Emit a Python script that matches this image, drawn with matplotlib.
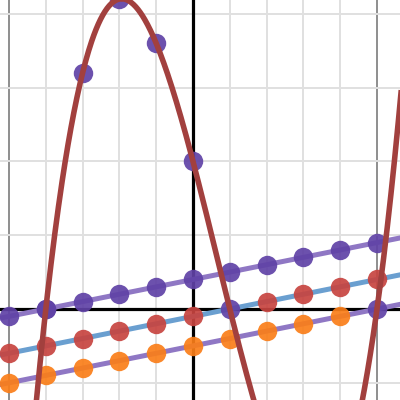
import numpy as np
import matplotlib
matplotlib.use("Agg")
import matplotlib.pyplot as plt

# raices del cubico y = (x+4)(x-1)(x-5)
raices = [-4, 1, 5]

xs_lineas = np.arange(-5, 6)
# tres rectas de pendiente 1
y_arriba = xs_lineas + 4
y_medio = xs_lineas - 1
y_abajo = xs_lineas - 5

# puntos morados sobre la cubica
x_cubica_pts = [-3, -2, -1, 0]
y_cubica_pts = [32, 42, 36, 20]

# puntos rojos (recta del medio) y naranjas (recta de abajo)
x_rojos = [-5, -4, -3, -2, -1, 0, 2, 3, 4, 5]
y_rojos = [-6, -5, -4, -3, -2, -1, 1, 2, 3, 4]
x_naranjas = [-5, -4, -3, -2, -1, 0, 1, 2, 3, 4]
y_naranjas = [-10, -9, -8, -7, -6, -5, -4, -3, -2, -1]


def cubica(x):
    return (x - raices[0]) * (x - raices[1]) * (x - raices[2])


fig = plt.figure(figsize=(4, 4), dpi=100)
ax = fig.add_axes([0, 0, 1, 1])
ax.set_xlim(-193 / 36.8, 207 / 36.8)
ax.set_ylim(-91 / 7.38, 309 / 7.38)
ax.axis('off')

# cuadricula
for gx in range(-6, 7):
    if gx == 0:
        continue
    c = '#8e8e8e' if gx % 5 == 0 else '#e0e0e0'
    ax.axvline(gx, color=c, lw=1.4, zorder=0)
for gy in range(-10, 50, 10):
    if gy == 0:
        continue
    ax.axhline(gy, color='#e0e0e0', lw=1.4, zorder=0)
ax.axvline(0, color='black', lw=2.3, zorder=1)
ax.axhline(0, color='black', lw=2.3, zorder=1)

# rectas
xl = np.array([-6, 6])
ax.plot(xl, xl + 4, color='#8f77c4', lw=3.6, zorder=2, solid_capstyle='butt')
ax.plot(xl, xl - 1, color='#6a9fd0', lw=3.6, zorder=2, solid_capstyle='butt')
ax.plot(xl, xl - 5, color='#8f77c4', lw=3.6, zorder=2, solid_capstyle='butt')

ms = 14
ax.plot(x_rojos, y_rojos, 'o', color='#c74440', alpha=0.92, ms=ms, mew=0, zorder=3)
ax.plot(x_naranjas, y_naranjas, 'o', color='#fa7e19', alpha=0.92, ms=ms, mew=0, zorder=3)
ax.plot(xs_lineas, y_arriba, 'o', color='#6042a6', alpha=0.92, ms=ms, mew=0, zorder=3)
ax.plot(x_cubica_pts, y_cubica_pts, 'o', color='#6042a6', alpha=0.92, ms=ms, mew=0, zorder=3)
ax.plot(raices, [0, 0, 0], 'o', color='#6042a6', alpha=0.92, ms=ms, mew=0, zorder=3)

xc = np.linspace(-6, 6, 600)
ax.plot(xc, cubica(xc), color='#a2403e', lw=4, zorder=4)

fig.savefig('out.png', dpi=100)
